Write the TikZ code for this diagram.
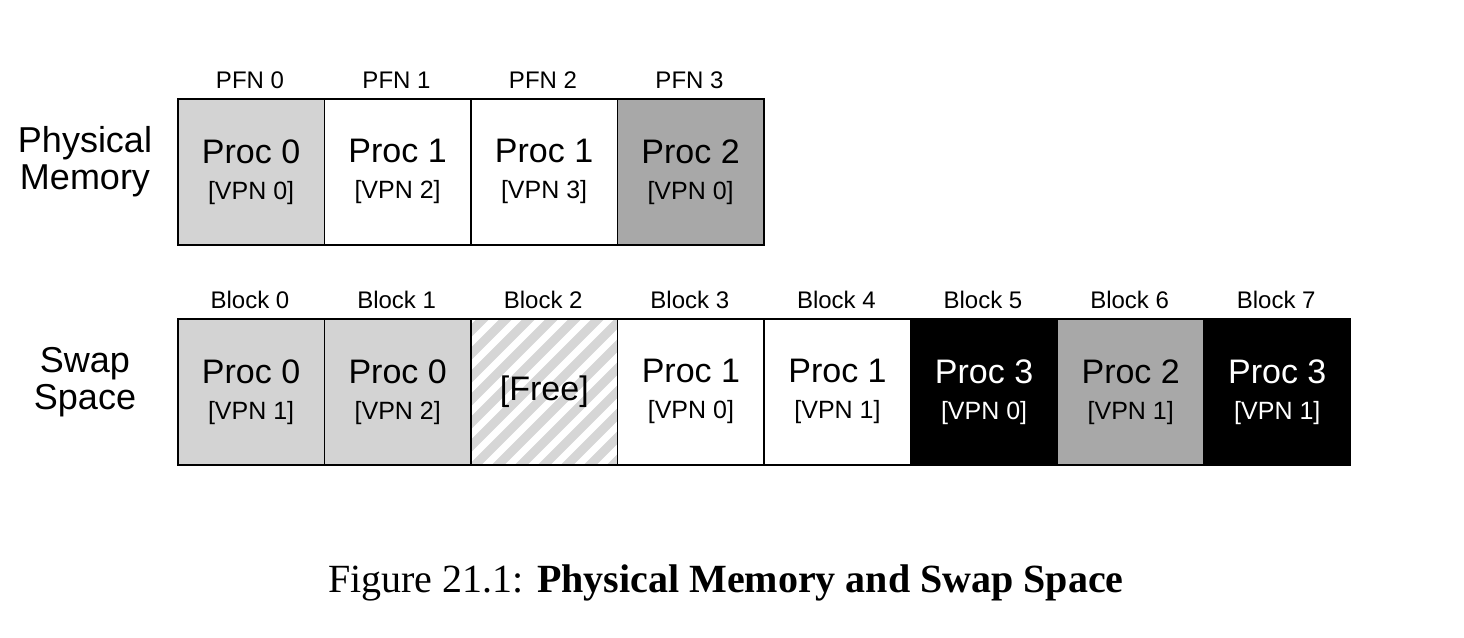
\documentclass[tikz,border=0pt]{standalone}
\usepackage{fontspec}
\setmainfont{Liberation Sans}
\newfontfamily\capfont{TeX Gyre Heros}
\newfontfamily\serif{Liberation Serif}
\definecolor{lg}{HTML}{D3D3D3}
\definecolor{mg}{HTML}{A8A8A8}
\definecolor{hg}{HTML}{D6D6D6}
\begin{document}
\begin{tikzpicture}[x=0.5pt,y=-0.5pt,
  cell/.style={draw=black,line width=0.8pt,minimum width=73.3pt,minimum height=73pt,inner sep=0pt,anchor=north west,align=center,font=\fontsize{17}{20}\selectfont},
  hdr/.style={font=\fontsize{12}{14}\selectfont},
  side/.style={font=\fontsize{18}{18.5}\selectfont,align=center}]
\useasboundingbox (0,0) rectangle (1464,638);
\newcommand\cc[3]{#1\\[-2pt]{\fontsize{12.5}{14}\selectfont[#2]}}
% physical memory
\foreach \i/\f/\t/\p/\v in {0/lg/black/0/0,1/white/black/1/2,2/white/black/1/3,3/mg/black/2/0}{
  \node[cell,fill=\f,text=\t] (pm\i) at (177+146.5*\i,98) {Proc \p\\[-2pt]{\fontsize{12.5}{14}\selectfont[VPN \v]}};
  \node[hdr] (pl\i) at (250+146.5*\i,80) {PFN \i};
}
\foreach \i/\f/\t/\p/\v in {0/lg/black/0/1,1/lg/black/0/2,3/white/black/1/0,4/white/black/1/1,5/black/white/3/0,6/mg/black/2/1,7/black/white/3/1}{
  \node[cell,fill=\f,text=\t] (sw\i) at (177+146.6*\i,318) {Proc \p\\[-2pt]{\fontsize{12.5}{14}\selectfont[VPN \v]}};
}
\begin{scope}
\clip (470.2,318) rectangle (616.8,464);
\foreach \k in {-8,...,8}{
  \draw[hg,line width=4.5pt] (470+\k*23,470) -- (630+\k*23,310);
}
\end{scope}
\node[cell] (sw2) at (470.2,318) {[Free]};
\foreach \i in {0,...,7}{
  \node[hdr] (sl\i) at (250+146.6*\i,300) {Block \i};
}
\node[side] (pmlab) at (85,162) {Physical\\Memory};
\node[side] (swlab) at (85,382) {Swap\\Space};
\node[font=\serif\fontsize{20}{24}\selectfont] (cap) at (726,583) {Figure 21.1: \textbf{Physical Memory and Swap Space}};
\end{tikzpicture}
\end{document}
